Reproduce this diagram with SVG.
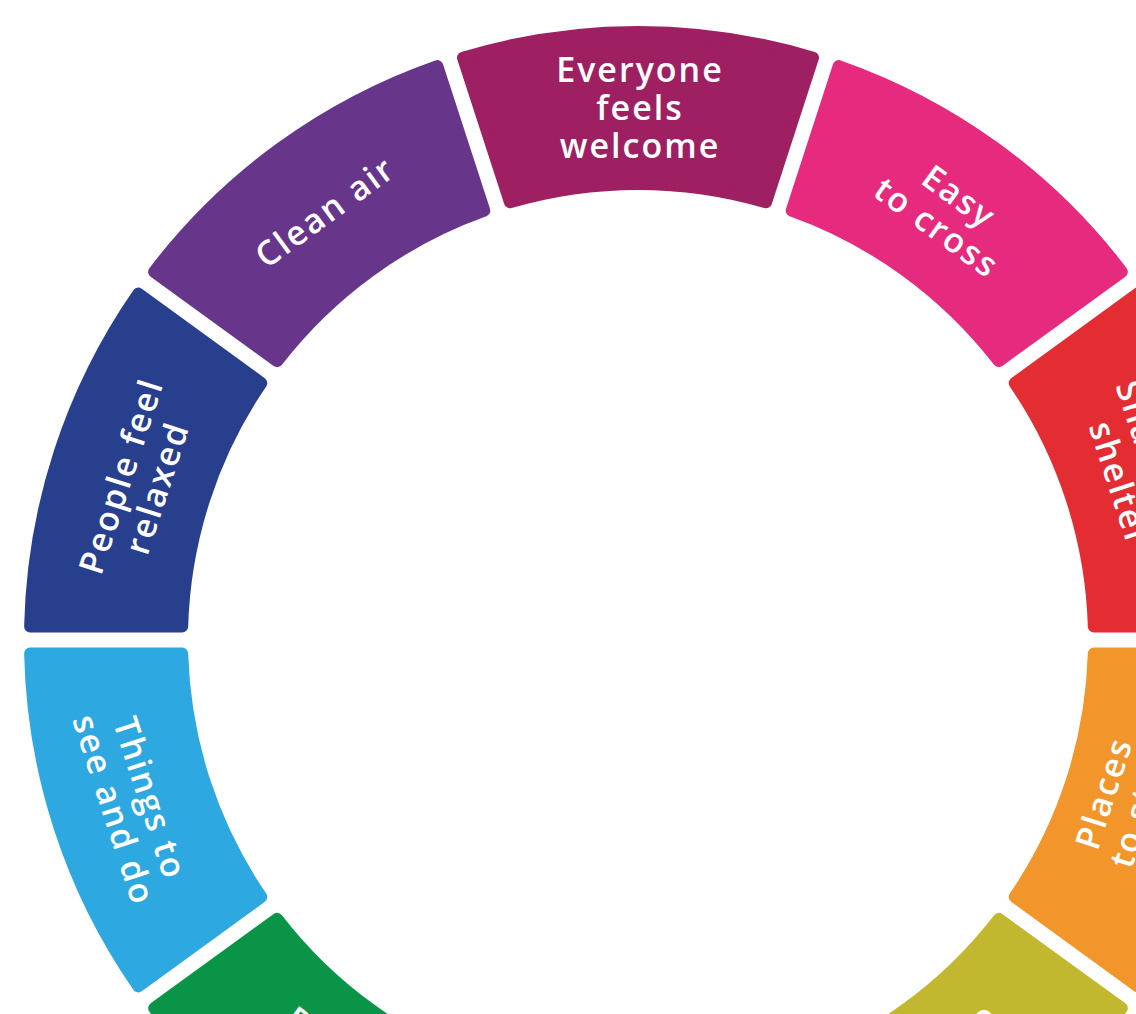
<svg xmlns="http://www.w3.org/2000/svg" xmlns:xlink="http://www.w3.org/1999/xlink" width="1136" height="1014" viewBox="0 0 1136 1014">
<style>
.seg{stroke-width:12;stroke-linejoin:round}
.lbl{font-family:"Open Sans","Liberation Sans",sans-serif;font-weight:600;font-size:34px;letter-spacing:2px;fill:#fff;text-anchor:middle}
</style>
<defs>
<path id="seg" d="M463.0,57.7 A608,608 0 0 1 813.0,57.7 L766.0,202.3 A456,456 0 0 0 510.0,202.3 Z"/>
</defs>
<rect width="1136" height="1014" fill="#fff"/>
<g id="welcome">
<use xlink:href="#seg" class="seg" fill="#9E2062" stroke="#9E2062"/>
<text class="lbl" transform="translate(640,108)"><tspan x="0" y="-26">Everyone</tspan><tspan x="0" y="12">feels</tspan><tspan x="0" y="50">welcome</tspan></text>
</g>
<g id="easy-to-cross">
<use xlink:href="#seg" class="seg" fill="#E62A7E" stroke="#E62A7E" transform="rotate(36 638 640)"/>
<text class="lbl" transform="translate(948,212) rotate(36)"><tspan x="0" y="-7">Easy</tspan><tspan x="0" y="31">to cross</tspan></text>
</g>
<g id="shade-and-shelter">
<use xlink:href="#seg" class="seg" fill="#E42D33" stroke="#E42D33" transform="rotate(72 638 640)"/>
<text class="lbl" transform="translate(1138,478) rotate(72)"><tspan x="0" y="-7">Shade and</tspan><tspan x="0" y="31">shelter</tspan></text>
</g>
<g id="places-to-stop">
<use xlink:href="#seg" class="seg" fill="#F2952A" stroke="#F2952A" transform="rotate(108 638 640)"/>
<text class="lbl" transform="translate(1140,805) rotate(-72)"><tspan x="0" y="-26">Places</tspan><tspan x="0" y="12">to stop</tspan><tspan x="0" y="50">and rest</tspan></text>
</g>
<g id="not-too-noisy">
<use xlink:href="#seg" class="seg" fill="#C2B830" stroke="#C2B830" transform="rotate(144 638 640)"/>
<text class="lbl" transform="translate(948,1066) rotate(-36)"><tspan x="0" y="-7">Not too</tspan><tspan x="0" y="31">noisy</tspan></text>
</g>
<g id="people-feel-safe">
<use xlink:href="#seg" class="seg" fill="#0A9447" stroke="#0A9447" transform="rotate(216 638 640)"/>
<text class="lbl" transform="translate(328,1066) rotate(36)"><tspan x="0" y="-7">People</tspan><tspan x="0" y="31">feel safe</tspan></text>
</g>
<g id="things-to-see">
<use xlink:href="#seg" class="seg" fill="#2EA8E0" stroke="#2EA8E0" transform="rotate(-108 638 640)"/>
<text class="lbl" transform="translate(132,804) rotate(72)"><tspan x="0" y="-7">Things to</tspan><tspan x="0" y="31">see and do</tspan></text>
</g>
<g id="people-feel-relaxed">
<use xlink:href="#seg" class="seg" fill="#283F8E" stroke="#283F8E" transform="rotate(-72 638 640)"/>
<text class="lbl" transform="translate(139,482) rotate(-72)"><tspan x="0" y="-7">People feel</tspan><tspan x="0" y="31">relaxed</tspan></text>
</g>
<g id="clean-air">
<use xlink:href="#seg" class="seg" fill="#67368B" stroke="#67368B" transform="rotate(-36 638 640)"/>
<text class="lbl" transform="translate(325,212) rotate(-36)"><tspan x="0" y="12">Clean air</tspan></text>
</g>
<g id="connectors"/>
</svg>
